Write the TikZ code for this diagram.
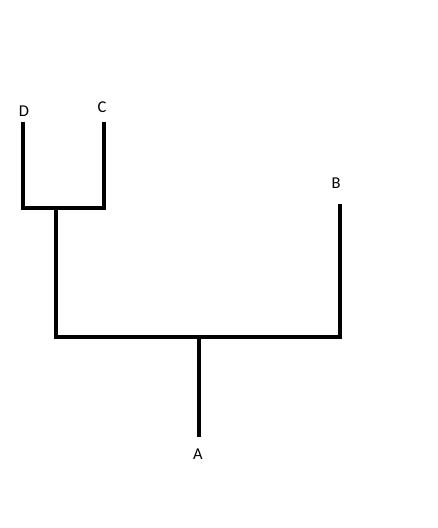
\documentclass[tikz,border=0pt]{standalone}
\usepackage{fontspec}
\setmainfont{Carlito}
\begin{document}
\begin{tikzpicture}[x=1pt,y=-1pt,
  branch/.style={line width=4.6pt,line cap=rect},
  leaf/.style={font=\fontsize{16.5}{19}\selectfont,inner sep=0pt}]
\useasboundingbox (0,0) rectangle (437,528);
\node[leaf] (D) at (24,111) {D};
\node[leaf] (C) at (102,107.5) {C};
\node[leaf] (B) at (336,183) {B};
\node[leaf] (A) at (198,454) {A};
\coordinate (dtop) at (23,124);
\coordinate (dbot) at (23,208);
\coordinate (ctop) at (104,124);
\coordinate (cbot) at (104,208);
\coordinate (dc) at (56,208);
\coordinate (root) at (56,337);
\coordinate (btop) at (340,206);
\coordinate (bbot) at (340,337);
\coordinate (amid) at (199,337);
\coordinate (abot) at (199,435);
\draw[branch] (dtop) -- (dbot) -- (cbot) -- (ctop);
\draw[branch] (dc) -- (root) -- (bbot) -- (btop);
\draw[branch] (amid) -- (abot);
\end{tikzpicture}
\end{document}
